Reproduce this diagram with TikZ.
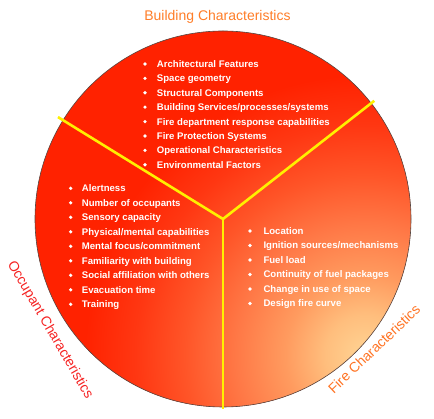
\documentclass[tikz,border=0pt]{standalone}
\usepackage{fontspec}
\setmainfont{Liberation Sans}
\usetikzlibrary{calc}

\definecolor{firered}{RGB}{255,34,0}
\definecolor{glowA}{RGB}{255,212,148}
\definecolor{glowB}{RGB}{255,190,125}
\definecolor{glowC}{RGB}{255,155,95}
\definecolor{glowD}{RGB}{255,120,70}
\definecolor{glowE}{RGB}{255,85,40}
\definecolor{glowF}{RGB}{255,55,18}
\definecolor{divyellow}{RGB}{255,240,0}
\definecolor{rimgray}{RGB}{85,70,65}
\definecolor{bldorange}{RGB}{255,125,40}
\definecolor{occred}{RGB}{245,35,35}
\definecolor{fireorange}{RGB}{255,115,35}

% glow from the lower right, 25bp = radius of the shaded disc
\pgfdeclareradialshading{fireglow}{\pgfpoint{0bp}{0bp}}{%
  color(0bp)=(glowA); color(3.6bp)=(glowB); color(7.1bp)=(glowC);
  color(11.6bp)=(glowD); color(16.1bp)=(glowE); color(20.5bp)=(glowF);
  color(25bp)=(firered); color(50bp)=(firered)}

\newcommand\labelfont{\fontsize{14}{16}\selectfont}

\begin{document}
\begin{tikzpicture}[x=1pt, y=1pt,
    item/.style={anchor=base west, inner sep=0pt, text=white,
      font=\fontsize{9.6}{12}\selectfont\bfseries},
    heading/.style={font=\labelfont, inner sep=0pt},
    dot/.style={fill=white},
    rim/.style={draw=rimgray, line width=0.6pt},
    divider/.style={draw=divyellow, line width=2.6pt}]
  \useasboundingbox (0,0) rectangle (434,419);

  \coordinate (hub) at (223,200);
  \coordinate (glow) at (365,64);

  % Disc with shading
  \begin{scope}
    \clip (hub) circle (188);
    \fill[firered] (hub) circle (188);
    \shade[shading=fireglow] (glow) circle (280);
  \end{scope}
  \draw[rim] (hub) circle (188);

  % Dividers
  \coordinate (divL) at ($(hub)+(148.3:194)$);
  \coordinate (divR) at ($(hub)+(38:192)$);
  \coordinate (divB) at ($(hub)+(270:190)$);
  \draw[divider] (hub) -- (divL);
  \draw[divider] (hub) -- (divR);
  \draw[divider] (hub) -- (divB);

  % Building characteristics
  \node[heading, text=bldorange] (bldtitle) at (217.5,401.7) {Building Characteristics};
  \foreach \txt [count=\i] in {Architectural Features, Space geometry,
      Structural Components, Building Services/processes/systems,
      Fire department response capabilities, Fire Protection Systems,
      Operational Characteristics, Environmental Factors} {
    \fill[dot] (145, {355-14.4*(\i-1)}) circle (1.8);
    \node[item] (bld\i) at (156.7, {351.5-14.4*(\i-1)}) {\txt};
  }

  % Occupant characteristics
  \node[heading, text=occred, rotate=-59.7] (occtitle) at (50,89) {Occupant Characteristics};
  \foreach \txt [count=\i] in {Alertness, Number of occupants,
      Sensory capacity, Physical/mental capabilities,
      Mental focus/commitment, Familiarity with building,
      Social affiliation with others, Evacuation time, Training} {
    \fill[dot] (70.7, {230.7-14.5*(\i-1)}) circle (1.8);
    \node[item] (occ\i) at (81.7, {227.2-14.5*(\i-1)}) {\txt};
  }

  % Fire characteristics
  \node[heading, text=fireorange, rotate=43.6] (firetitle) at (374,70) {Fire Characteristics};
  \foreach \txt [count=\i] in {Location, Ignition sources/mechanisms,
      Fuel load, Continuity of fuel packages, Change in use of space,
      Design fire curve} {
    \fill[dot] (250, {188-14.5*(\i-1)}) circle (1.8);
    \node[item] (fire\i) at (263.3, {184.5-14.5*(\i-1)}) {\txt};
  }
\end{tikzpicture}
\end{document}
